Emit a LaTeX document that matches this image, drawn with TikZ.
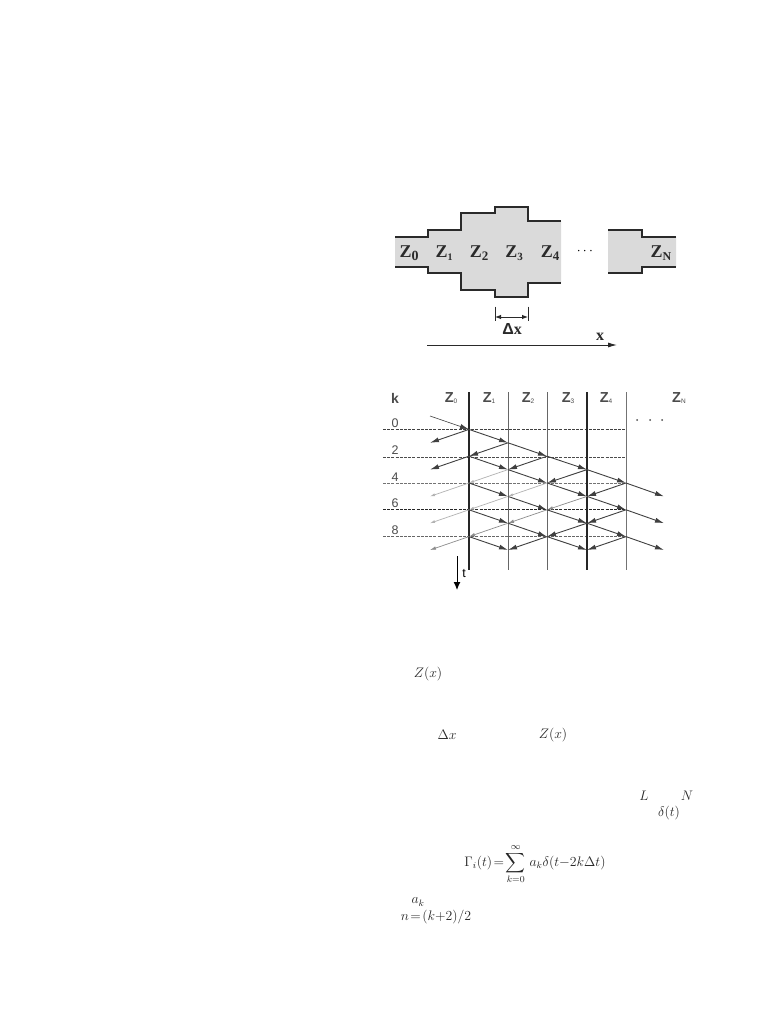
\documentclass[tikz,border=0pt]{standalone}
\usepackage{fontspec}
\usepackage{amsmath}
\usetikzlibrary{arrows.meta}
\newfontfamily\labserif{Liberation Serif}
\newfontfamily\labsans{Liberation Sans}
\definecolor{stip}{HTML}{DADADA}
\definecolor{ink}{HTML}{2A2A2A}
\newcommand{\topsub}[2]{Z\raisebox{-3pt}{\fontsize{#1}{#1}\selectfont #2}}
\newcommand{\lowsub}[1]{Z\raisebox{-1pt}{\mdseries\fontsize{6.5}{7}\selectfont #1}}
\newcommand{\mth}[1]{\scalebox{1.15}{#1}}
\tikzset{
  wall/.style={draw=ink,line width=1.2pt},
  toplab/.style={font=\labserif\bfseries\fontsize{18}{20}\selectfont,text=ink,inner sep=0pt},
  zlab/.style={font=\labsans\bfseries\fontsize{14.5}{16}\selectfont,text=black!70,inner sep=0pt},
  klab/.style={font=\labsans\fontsize{12.5}{14}\selectfont,text=black!70,inner sep=0pt},
  mathlab/.style={font=\fontsize{12}{14}\selectfont,text=black!85,inner sep=0pt},
  rowline/.style={dashed,dash pattern=on 3pt off 1.2pt,line width=1pt},
  raydark/.style={draw=black!75,line width=0.9pt,-{Latex[length=9pt,width=5pt]}},
  raygray/.style={draw=black!45,line width=0.7pt,-{Latex[length=6pt,width=3.5pt]}},
  raylight/.style={draw=black!30,line width=0.7pt,-{Latex[length=5pt,width=3pt]}},
}
\begin{document}
\begin{tikzpicture}[x=1pt,y=-1pt]
\useasboundingbox[fill=white] (0,0) rectangle (768,1024);
% ---- stepped line
\fill[stip] (395,237) -- (428,237) -- (428,230) -- (461,230) -- (461,213) -- (495,213) -- (495,207)
  -- (528,207) -- (528,221) -- (561,221) -- (561,283) -- (528,283) -- (528,297) -- (495,297)
  -- (495,290) -- (461,290) -- (461,273) -- (428,273) -- (428,267) -- (395,267) -- cycle;
\fill[stip] (608,230) -- (642,230) -- (642,237) -- (676,237) -- (676,267) -- (642,267) -- (642,273) -- (608,273) -- cycle;
\draw[wall] (395,237) -- (428,237) -- (428,230) -- (461,230) -- (461,213) -- (495,213) -- (495,207) -- (528,207) -- (528,221) -- (561,221);
\draw[wall] (395,267) -- (428,267) -- (428,273) -- (461,273) -- (461,290) -- (495,290) -- (495,297) -- (528,297) -- (528,283) -- (561,283);
\draw[wall] (608,230) -- (642,230) -- (642,237) -- (676,237);
\draw[wall] (608,273) -- (642,273) -- (642,267) -- (676,267);
\node[toplab] (t0) at (409,253) {\topsub{14}{0}};
\node[toplab] (t1) at (444,253) {\topsub{10}{1}};
\node[toplab] (t2) at (479,253) {\topsub{13}{2}};
\node[toplab] (t3) at (514,253) {\topsub{11}{3}};
\node[toplab] (t4) at (550,253) {\topsub{13}{4}};
\node[toplab] (tN) at (661,253) {\topsub{12}{N}};
\node[font=\fontsize{12}{14}\selectfont\bfseries,inner sep=0pt] (tdots) at (586,251) {\mth{$\cdots$}};
% ---- Delta x
\coordinate (dxa) at (495,317); \coordinate (dxb) at (528,317);
\draw[draw=ink,line width=0.9pt] (495,306.5) -- (495,321) (528,306.5) -- (528,321);
\draw[draw=ink,line width=0.9pt,{Latex[length=6pt,width=4.5pt]}-{Latex[length=6pt,width=4.5pt]}] (dxa) -- (dxb);
\node[font=\labserif\bfseries\fontsize{16}{16}\selectfont,text=ink,inner sep=0pt] (dxl) at (512,329) {\labsans\char"0394\labserif x};
% ---- x axis
\coordinate (xa) at (427,345); \coordinate (xb) at (617,345);
\draw[draw=ink,line width=1pt,-{Latex[length=9pt,width=5pt]}] (xa) -- (xb);
\node[font=\labserif\bfseries\fontsize{16}{16}\selectfont,text=ink,inner sep=0pt] (xl) at (600,337) {x};
% ---- lattice diagram
\foreach \yy/\c in {429/75,457/70,483/55,509/85,536/60} {
  \draw[rowline,draw=black!\c] (383,\yy) -- (626,\yy);
}
\foreach \xx/\w/\c in {469/1.2/85,508/0.8/60,547/0.8/60,587/1.1/85,626/1/55} {
  \draw[draw=black!\c,line width=\w pt] (\xx,392) -- (\xx,570);
}
\foreach \cc/\xx in {0/430,1/469,2/508,3/547,4/587,5/626,6/664} {
  \foreach \r in {0,...,10} {
    \coordinate (p\cc-\r) at (\xx,416+13.4*\r);
  }
}
\draw[draw=black!75,line width=0.6pt,-{Latex[length=9pt,width=5pt]}] (p0-0) -- (p1-1);
\foreach \a/\b/\c/\d in {1/1/2/2,2/2/3/3,3/3/4/4,4/4/5/5,5/5/6/6,
  1/3/2/4,2/4/3/5,3/5/4/6,4/6/5/7,5/7/6/8,
  1/5/2/6,2/6/3/7,3/7/4/8,4/8/5/9,5/9/6/10,
  1/7/2/8,2/8/3/9,3/9/4/10,
  1/9/2/10,
  1/1/0/2,2/2/1/3,1/3/0/4,3/3/2/4,4/4/3/5,5/5/4/6,
  5/7/4/8,4/8/3/9,3/9/2/10,5/9/4/10} {
  \draw[raydark] (p\a-\b) -- (p\c-\d);
}
\foreach \a/\b/\c/\d in {4/6/3/7,3/7/2/8,2/8/1/9,1/9/0/10} {
  \draw[raygray] (p\a-\b) -- (p\c-\d);
}
\foreach \a/\b/\c/\d in {2/4/1/5,1/5/0/6,3/5/2/6,2/6/1/7,1/7/0/8} {
  \draw[raylight] (p\a-\b) -- (p\c-\d);
}
\node[klab,font=\labsans\bfseries\fontsize{14}{15}\selectfont] (kl) at (395,398) {k};
\node[zlab] (z0) at (451,398) {\lowsub{0}};
\node[zlab] (z1) at (489,398) {\lowsub{1}};
\node[zlab] (z2) at (528,398) {\lowsub{2}};
\node[zlab] (z3) at (568,398) {\lowsub{3}};
\node[zlab] (z4) at (606,398) {\lowsub{4}};
\node[zlab] (zN) at (679,398) {\lowsub{N}};
\node[klab] (k0) at (395,423) {0};
\node[klab] (k2) at (395,450) {2};
\node[klab] (k4) at (395,477) {4};
\node[klab] (k6) at (395,503) {6};
\node[klab] (k8) at (395,530) {8};
\foreach \xx in {637,650,662} { \fill[black!70] (\xx,420) circle (1pt); }
\coordinate (ta) at (457,556); \coordinate (tb) at (457,590);
\draw[draw=black,line width=1pt,-{Latex[length=8pt,width=7pt]}] (ta) -- (tb);
\node[klab,text=black] (tl) at (464,574) {t};
% ---- formulas
\node[mathlab] (m1) at (428,674) {\mth{$Z(x)$}};
\node[mathlab] (m2) at (447,735) {\mth{$\Delta x$}};
\node[mathlab] (m3) at (553,735) {\mth{$Z(x)$}};
\node[mathlab] (m4) at (644,796) {\mth{$L$}};
\node[mathlab] (m5) at (687,796) {\mth{$N$}};
\node[mathlab] (m6) at (669,813) {\mth{$\delta(t)$}};
\node[mathlab] (m7) at (535,864) {\mth{\thickmuskip=2mu\medmuskip=0mu$\displaystyle \Gamma_i(t)=\sum_{k=0}^{\infty}\;a_k\delta(t-2k\Delta t)$}};
\node[mathlab] (m8) at (418,902) {\mth{$a_k$}};
\node[mathlab] (m9) at (436,917) {\mth{\thickmuskip=2mu\medmuskip=0mu$n=(k{+}2)/2$}};
\end{tikzpicture}
\end{document}
